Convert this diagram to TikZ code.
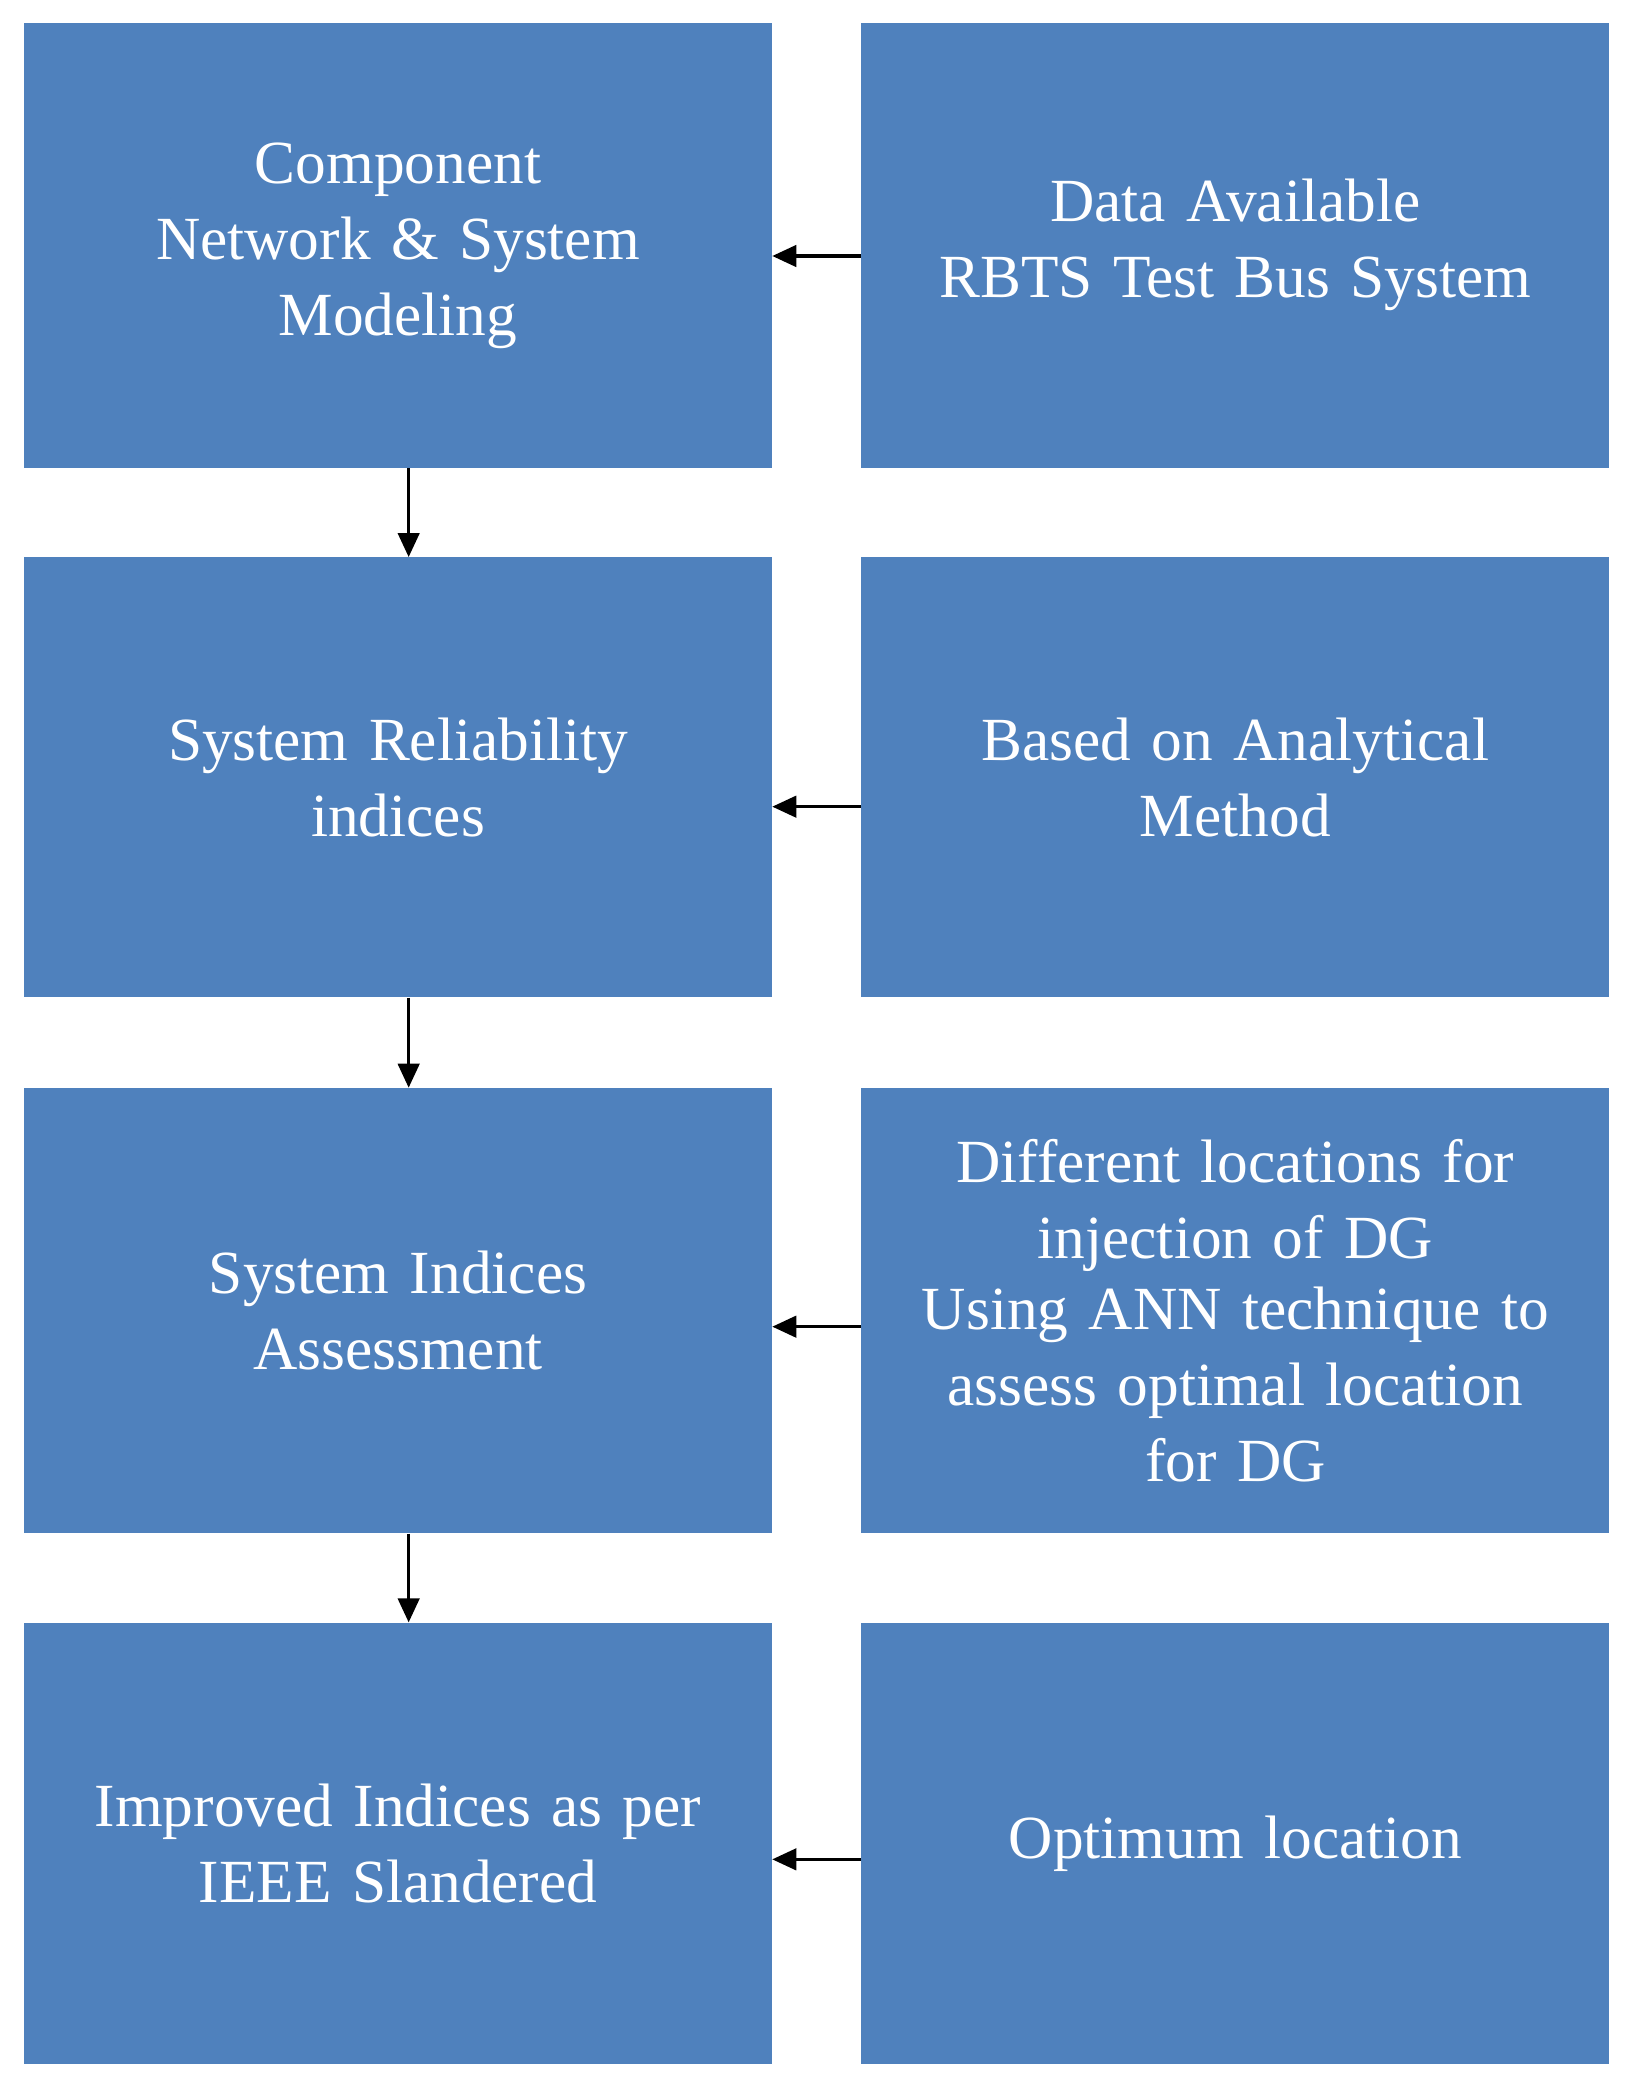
\documentclass[tikz,border=0pt]{standalone}
\usepackage{fontspec}
\setmainfont{Liberation Serif}
\usetikzlibrary{arrows.meta}
\definecolor{boxblue}{HTML}{4F81BD}
\begin{document}
\begin{tikzpicture}[x=1pt,y=-1pt,
  box/.style={fill=boxblue,draw=none,minimum width=561pt,text width=540pt,align=center,text=white,font=\fontsize{46}{57}\selectfont,inner sep=0pt},
  arr/.style={-{Triangle[length=18pt,width=16pt]},line width=2.5pt}]
\useasboundingbox (0,0) rectangle (1225,1563);
\node[box,minimum height=334pt] (l1) at (298.5,184) {Component\\Network \& System\\Modeling};
\node[box,minimum height=334pt] (r1) at (926.5,184) {Data Available\\RBTS Test Bus System};
\node[box,minimum height=330pt] (l2) at (298.5,583) {System Reliability\\indices};
\node[box,minimum height=330pt] (r2) at (926.5,583) {Based on Analytical\\Method};
\node[box,minimum height=334pt] (l3) at (298.5,983) {System Indices\\Assessment};
\node[box,minimum height=334pt,text width=550pt] (r3) at (926.5,983) {Different locations for\\injection of DG\\[-4pt]Using ANN technique to\\assess optimal location\\for DG};
\node[box,minimum height=331pt] (l4) at (298.5,1382.5) {Improved Indices as per\\IEEE Slandered};
\node[box,minimum height=331pt] (r4) at (926.5,1382.5) {Optimum location};
\draw[arr] ([yshift=-8]r1.west) -- ([yshift=-8]l1.east);
\draw[arr] ([yshift=-22]r2.west) -- ([yshift=-22]l2.east);
\draw[arr] ([yshift=-12]r3.west) -- ([yshift=-12]l3.east);
\draw[arr] ([yshift=-12]r4.west) -- ([yshift=-12]l4.east);
\draw[arr] ([xshift=8]l1.south) -- ([xshift=8]l2.north);
\draw[arr] ([xshift=8]l2.south) -- ([xshift=8]l3.north);
\draw[arr] ([xshift=8]l3.south) -- ([xshift=8]l4.north);
\end{tikzpicture}
\end{document}
